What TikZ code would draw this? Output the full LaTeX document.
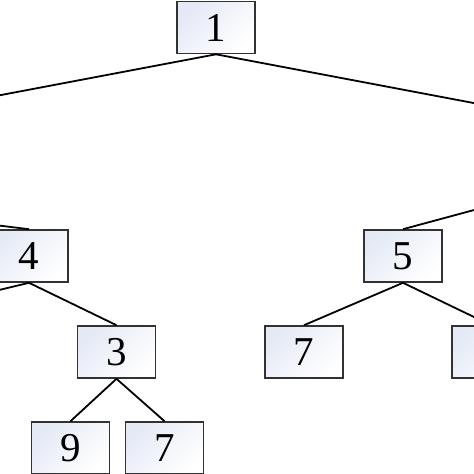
\documentclass[tikz,border=0pt]{standalone}
\usepackage{fontspec}
\setmainfont{Liberation Serif}
\definecolor{boxtint}{RGB}{228,233,245}
\definecolor{boxedge}{RGB}{50,50,50}
\tikzset{
  tbox/.style={rectangle, draw=boxedge, line width=1.6pt,
    top color=boxtint, bottom color=white, shading angle=45,
    minimum width=78pt, minimum height=52pt, inner sep=0pt,
    font=\fontsize{41}{41}\selectfont},
  link/.style={draw=black, line width=1.8pt}
}
\begin{document}
\begin{tikzpicture}[x=1pt,y=-1pt]
\useasboundingbox (0,0) rectangle (474,474);
\clip (0,0) rectangle (474,474);
\node[tbox] (n1) at (216,27.5) {1};
\node[tbox] (n4) at (29,256) {4};
\node[tbox] (n3) at (116.5,352) {3};
\node[tbox] (n9) at (70.5,448) {9};
\node[tbox] (n7a) at (164.5,448) {7};
\node[tbox] (n5) at (403,256) {5};
\node[tbox] (n7b) at (304,352) {7};
\node[tbox] (nr) at (491,352) {};
\coordinate (eL1) at (-20,99);
\coordinate (eR1) at (500,108);
\coordinate (eL4) at (-30,222);
\coordinate (eL4b) at (-30,297);
\coordinate (eR5) at (500,203);
\draw[link] (n1.south) -- (eL1);
\draw[link] (n1.south) -- (eR1);
\draw[link] (eL4) -- (n4.north);
\draw[link] (n4.south) -- (eL4b);
\draw[link] (n4.south) -- (n3.north);
\draw[link] (n3.south) -- (n9.north);
\draw[link] (n3.south) -- (n7a.north);
\draw[link] (eR5) -- (n5.north);
\draw[link] (n5.south) -- (n7b.north);
\draw[link] (n5.south) -- (nr.north);
\end{tikzpicture}
\end{document}
